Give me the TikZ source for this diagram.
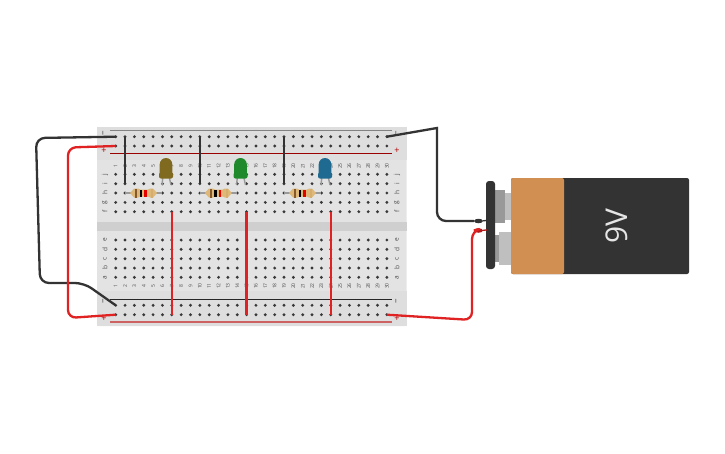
\documentclass[tikz,border=0pt]{standalone}
\usepackage{fontspec}
\setmainfont{Open Sans}
\usetikzlibrary{shapes.geometric}
\definecolor{boardgray}{HTML}{E3E3E3}
\definecolor{railgray}{HTML}{DEDEDE}
\definecolor{gapgray}{HTML}{CFCFCF}
\definecolor{holeblack}{HTML}{383838}
\definecolor{wireblack}{HTML}{333333}
\definecolor{wirered}{HTML}{E02222}
\definecolor{battorange}{HTML}{D28F52}
\definecolor{leadgray}{HTML}{999999}
\definecolor{resbody}{HTML}{DDB878}
\definecolor{ledyellow}{HTML}{7F6A1F}
\definecolor{ledgreen}{HTML}{1F8A2B}
\definecolor{ledblue}{HTML}{1F6A90}
\tikzset{
    hole/.style={circle, fill=holeblack, inner sep=0pt, minimum size=3.2pt},
    blackwire/.style={draw=wireblack, line width=2.3pt, rounded corners=9pt},
    redwire/.style={draw=wirered, line width=2.3pt, rounded corners=8pt},
    tinylabel/.style={font=\fontsize{5}{5}\selectfont, text=black!70, rotate=90, inner sep=0pt},
    bigsign/.style={inner sep=0pt, font=\fontsize{9}{9}\selectfont},
    battclip/.style={ellipse, inner sep=0pt, minimum width=9pt, minimum height=4.5pt},
}
\begin{document}
\begin{tikzpicture}[x=1pt,y=-1pt]
    \useasboundingbox (0,0) rectangle (725,453);

    % breadboard
    \fill[boardgray, rounded corners=1pt] (97,127) rectangle (406.5,326);
    \fill[railgray] (97,127) rectangle (406.5,160);
    \fill[railgray] (97,291) rectangle (406.5,326);
    \fill[gapgray] (97,222) rectangle (406.5,231);

    % rail lines
    \draw[leadgray!85!black, line width=1.2pt] (110,130.5) -- (392,130.5);
    \draw[red!60!black, line width=0.9pt] (110,153.3) -- (392,153.3);
    \draw[black!85, line width=0.8pt] (110,299.3) -- (392,299.3);
    \draw[red!55!gray, line width=1.2pt, opacity=0.75] (110,322) -- (392,322);

    % holes
    \foreach \row/\y in {tm/136.7, tp/146, j/174.3, i/183.7, h/193, g/202.4, f/211.7,
                         e/240, d/249.3, c/258.7, b/268, a/277.3, bm/305.3, bp/314.7}
        \foreach \col in {1,...,30}
            \node[hole] (\row-\col) at ({115.7+(\col-1)*9.35},\y) {};

    % numbers and letters
    \foreach \col in {1,...,30} {
        \node[tinylabel] (numt\col) at ({115.7+(\col-1)*9.35},166) {\col};
        \node[tinylabel] (numb\col) at ({115.7+(\col-1)*9.35},286) {\col};
    }
    \foreach \row/\y in {j/174.3, i/183.7, h/193, g/202.4, f/211.7,
                         e/240, d/249.3, c/258.7, b/268, a/277.3} {
        \node[tinylabel, font=\fontsize{6.5}{6.5}\selectfont] (left\row) at (105,\y) {\row};
        \node[tinylabel, font=\fontsize{6.5}{6.5}\selectfont] (right\row) at (397,\y) {\row};
    }

    % rail signs
    \foreach \x/\s in {104/l, 397/r} {
        \node[tinylabel, font=\fontsize{9}{9}\selectfont] (minust\s) at (\x,133) {--};
        \node[tinylabel, font=\fontsize{9}{9}\selectfont] (minusb\s) at (\x,301.5) {--};
        \node[bigsign, text=red!70!black] (plust\s) at (\x,151) {+};
        \node[bigsign, text=red!70!black] (plusb\s) at (\x,318.5) {+};
    }

    % resistors
    \foreach \a/\b in {2/6, 10/14, 19/23} {
        \draw[leadgray, line width=1.3pt] (h-\a.center) -- (h-\b.center);
        \begin{scope}[shift={(h-\a.center)}]
            \fill[resbody] (5,0) -- (9,-4.5) -- (13,-4.5) -- (15,-3.5) -- (23,-3.5) -- (25,-4.5)
                -- (28,-4.5) -- (32,0) -- (28,4.5) -- (25,4.5) -- (23,3.5) -- (15,3.5) -- (13,4.5)
                -- (9,4.5) -- cycle;
            \fill[brown!70!black] (9.7,-4.5) rectangle (12,4.5);
            \fill[black] (14.5,-3.5) rectangle (17,3.5);
            \fill[red!90!black] (19,-3.5) rectangle (21.5,3.5);
            \fill[resbody!80!brown] (25.7,-4.5) rectangle (28,4.5);
        \end{scope}
    }

    % leds
    \foreach \x/\c in {166/ledyellow, 240.5/ledgreen, 325/ledblue} {
        \draw[leadgray, line width=1.4pt] (\x-3,176) -- (\x-4,185);
        \draw[leadgray, line width=1.4pt] (\x+3,176) -- (\x+5,185);
        \fill[\c] (\x-6.3,177) -- (\x-6.3,164.3) arc (180:360:6.3) -- (\x+6.3,177) -- cycle;
        \fill[\c, rounded corners=2pt] (\x-7,172.5) rectangle (\x+7,178.5);
    }

    % jumpers
    \foreach \col in {2,10,19}
        \draw[blackwire] (tm-\col.center) -- (i-\col.center);
    \foreach \col in {7,15,24}
        \draw[redwire] (f-\col.center) -- (bp-\col.center);

    % battery
    \fill[leadgray] (495,190) rectangle (505,222.7);
    \fill[black!25] (505,192.5) rectangle (511.5,220);
    \fill[leadgray] (495,235) rectangle (499,262);
    \fill[black!25] (499,232) rectangle (511.5,265);
    \fill[wireblack, rounded corners=2pt] (511,178) rectangle (689,274);
    \fill[battorange, rounded corners=2pt] (511,178) -- (564,178) -- (564,274) -- (511,274) -- cycle;
    \fill[wireblack, rounded corners=3pt] (486,181) rectangle (495,269);
    \node[rotate=90, text=black!10, font=\fontsize{30}{30}\selectfont] (volt) at (617,226) {9V};

    % battery leads
    \node[battclip, fill=wireblack] (clipb) at (478.5,221) {};
    \node[battclip, fill=wirered!80!black] (clipr) at (478.5,230.5) {};
    \coordinate (barb) at (487,220.5);
    \coordinate (barr) at (487,230);
    \draw[wireblack, line width=1.3pt] (clipb) -- (barb);
    \draw[wirered!80!black, line width=1.3pt] (clipr) -- (barr);

    % long wires
    \coordinate (bl1) at (36,138);
    \coordinate (bl2) at (40,283);
    \coordinate (bl3) at (84,283);
    \coordinate (rl1) at (68,147.5);
    \coordinate (rl2) at (68,318);
    \coordinate (br1) at (437,128);
    \coordinate (br2) at (437,221);
    \coordinate (rr1) at (472,320);
    \coordinate (rr2) at (472,231);
    \draw[blackwire] (tm-1.center) -- (bl1) -- (bl2) -- (bl3) -- (bm-1.center);
    \draw[redwire] (tp-1.center) -- (rl1) -- (rl2) -- (bp-1.center);
    \draw[blackwire, rounded corners=0pt] (tm-30.center) -- (br1) [rounded corners=9pt] -- (br2) -- (clipb.west);
    \draw[redwire] (bp-30.center) -- (rr1) -- (rr2) -- (clipr.west);
\end{tikzpicture}
\end{document}
